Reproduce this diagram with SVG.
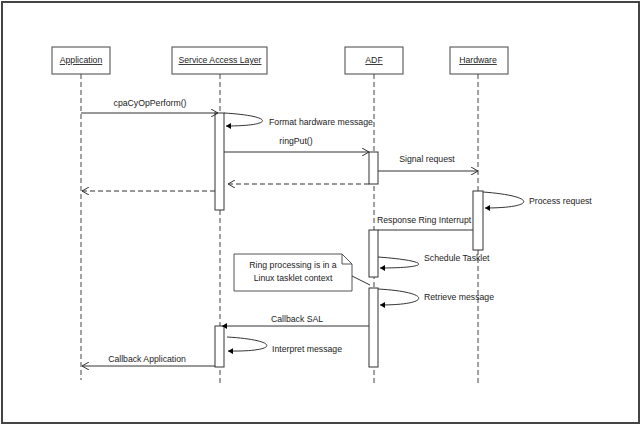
<svg xmlns="http://www.w3.org/2000/svg" width="642" height="428" viewBox="0 0 642 428">
<defs>
<marker id="open" markerWidth="8" markerHeight="8" refX="7" refY="4" orient="auto" markerUnits="userSpaceOnUse"><path d="M0,0 L7,4 L0,8" fill="none" stroke="#333" stroke-width="1"/></marker>
<marker id="fill" markerWidth="6" markerHeight="6" refX="5" refY="3" orient="auto" markerUnits="userSpaceOnUse"><path d="M0,0 L5,3 L0,6 Z" fill="#000"/></marker>
<style>
text{font-family:"Liberation Sans",Arial,sans-serif;font-size:8.7px;fill:#222}
.u{text-decoration:underline}
.box{fill:#fff;stroke:#444;stroke-width:1}
.life{stroke:#444;stroke-width:1;stroke-dasharray:5,3}
.act{fill:#fff;stroke:#333;stroke-width:1}
.msg{stroke:#333;stroke-width:1;fill:none}
.ret{stroke:#333;stroke-width:1;fill:none;stroke-dasharray:5,3}
</style>
</defs>
<rect x="0" y="0" width="642" height="428" fill="#fff"/>
<rect x="2" y="2" width="637" height="421" fill="none" stroke="#444" stroke-width="2"/>
<g id="lifelines">
<line class="life" x1="81" y1="74" x2="81" y2="380"/>
<line class="life" x1="220" y1="74" x2="220" y2="386"/>
<line class="life" x1="374" y1="74" x2="374" y2="386"/>
<line class="life" x1="478" y1="74" x2="478" y2="386"/>
</g>
<g id="application"><rect class="box" x="52" y="47" width="58" height="27"/><text class="u" x="81" y="63" text-anchor="middle">Application</text></g>
<g id="sal"><rect class="box" x="172" y="47" width="95" height="27"/><text class="u" x="220" y="63" text-anchor="middle">Service Access Layer</text></g>
<g id="adf"><rect class="box" x="345" y="47" width="58" height="27"/><text class="u" x="374" y="63" text-anchor="middle">ADF</text></g>
<g id="hardware"><rect class="box" x="450" y="47" width="58" height="27"/><text class="u" x="478" y="63" text-anchor="middle">Hardware</text></g>
<g id="activations">
<rect class="act" x="215" y="113" width="9" height="97"/>
<rect class="act" x="369" y="152" width="9" height="32"/>
<rect class="act" x="473" y="191" width="10" height="59"/>
<rect class="act" x="369" y="230" width="9" height="47"/>
<rect class="act" x="369" y="288" width="9" height="79"/>
<rect class="act" x="215" y="326" width="9" height="41"/>
</g>
<g id="note"><path d="M234,254 H342 L352,264 V291 H234 Z" fill="#fff" stroke="#555"/><path d="M342,254 V264 H352" fill="none" stroke="#555"/>
<text x="293" y="268" text-anchor="middle">Ring processing is in a</text><text x="293" y="281" text-anchor="middle">Linux tasklet context</text></g>
<g id="connectors">
<line class="msg" x1="81" y1="113" x2="218" y2="113" marker-end="url(#open)"/>
<path class="msg" d="M224,113 C275,116 275,126 226,126" marker-end="url(#fill)"/>
<line class="msg" x1="224" y1="152" x2="369" y2="152" marker-end="url(#open)"/>
<line class="msg" x1="378" y1="171" x2="478" y2="171" marker-end="url(#open)"/>
<line class="ret" x1="369" y1="184" x2="228" y2="184" marker-end="url(#open)"/>
<line class="ret" x1="215" y1="191" x2="82" y2="191" marker-end="url(#open)"/>
<path class="msg" d="M483,192 C537,196 537,208 485,208" marker-end="url(#fill)"/>
<line class="msg" x1="473" y1="230" x2="378" y2="230"/>
<path class="msg" d="M378,257 C432,261 432,268 380,268" marker-end="url(#fill)"/>
<line class="msg" x1="352" y1="276" x2="370" y2="285"/>
<path class="msg" d="M378,289 C432,292 432,305 380,305" marker-end="url(#fill)"/>
<line class="msg" x1="369" y1="326" x2="222" y2="326" marker-end="url(#fill)"/>
<path class="msg" d="M227,337 C280,340 280,352 228,351" marker-end="url(#fill)"/>
<line class="msg" x1="215" y1="366" x2="82" y2="366" marker-end="url(#open)"/>
<text x="150" y="106" text-anchor="middle">cpaCyOpPerform()</text>
<text x="269" y="125">Format hardware message</text>
<text x="296" y="144" text-anchor="middle">ringPut()</text>
<text x="427" y="162" text-anchor="middle">Signal request</text>
<text x="529" y="204">Process request</text>
<text x="377" y="223">Response Ring Interrupt</text>
<text x="424" y="261">Schedule Tasklet</text>
<text x="424" y="300">Retrieve message</text>
<text x="297" y="322" text-anchor="middle">Callback SAL</text>
<text x="272" y="352">Interpret message</text>
<text x="147" y="362" text-anchor="middle">Callback Application</text>
</g>
</svg>
